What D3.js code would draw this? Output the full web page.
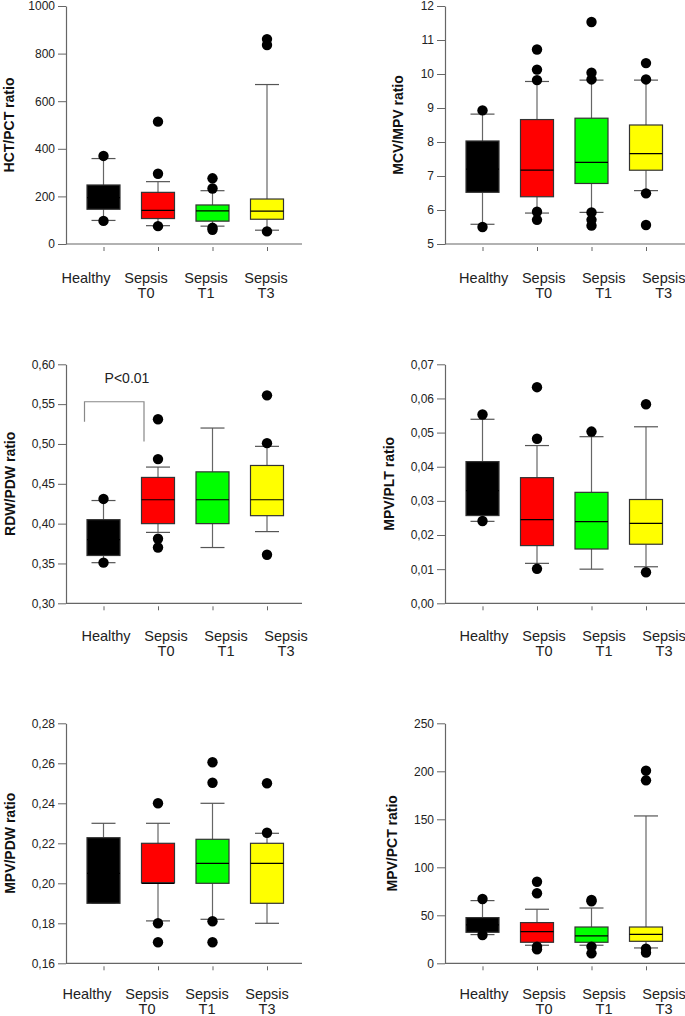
<!DOCTYPE html>
<html>
<head>
<meta charset="utf-8">
<script src="https://cdn.jsdelivr.net/npm/d3@7"></script>
<style>
  body { margin: 0; background: #fff; }
  svg { display: block; font-family: "Liberation Sans", Arial, sans-serif; }
</style>
</head>
<body>
<svg id="chart" width="685" height="1016"></svg>
<script>
const categories = ["Healthy", "Sepsis T0", "Sepsis T1", "Sepsis T3"];
const boxColors = ["#000000", "#ff0000", "#00ff00", "#ffff00"];

// each box: [lower whisker, q1, median, q3, upper whisker]
const hctPctBoxes = [[99, 146, 195, 248, 359], [77, 107, 141, 217, 262], [75, 96, 139, 164, 224], [58, 104, 138, 189, 670]];
const hctPctOutliers = [[370, 97], [514, 295, 75], [276, 233, 68, 60], [861, 836, 53]];
const hctPctTicks = [0, 200, 400, 600, 800, 1000];

const mcvMpvBoxes = [[5.58, 6.52, 7.2, 8.03, 8.82], [5.91, 6.39, 7.17, 8.66, 9.78], [5.93, 6.78, 7.40, 8.70, 9.82], [6.57, 7.17, 7.66, 8.50, 9.82]];
const mcvMpvOutliers = [[8.93, 5.50], [10.72, 10.13, 9.82, 5.95, 5.71], [11.53, 10.04, 9.84, 5.93, 5.71, 5.54], [10.32, 9.84, 6.49, 5.56]];
const mcvMpvTicks = [5, 6, 7, 8, 9, 10, 11, 12];

const rdwPdwBoxes = [[0.351, 0.360, 0.38, 0.405, 0.429], [0.389, 0.400, 0.430, 0.458, 0.471], [0.370, 0.400, 0.430, 0.465, 0.520], [0.390, 0.410, 0.430, 0.473, 0.497]];
const rdwPdwOutliers = [[0.431, 0.351], [0.531, 0.481, 0.381, 0.370], [], [0.561, 0.501, 0.361]];
const rdwPdwTicks = [0.30, 0.35, 0.40, 0.45, 0.50, 0.55, 0.60];

const mpvPltBoxes = [[0.0240, 0.0257, 0.033, 0.0415, 0.0539], [0.0117, 0.0169, 0.0245, 0.0368, 0.0462], [0.0100, 0.0159, 0.0239, 0.0325, 0.0488], [0.0107, 0.0173, 0.0234, 0.0304, 0.0517]];
const mpvPltOutliers = [[0.0553, 0.0241], [0.0633, 0.0482, 0.0101], [0.0503], [0.0583, 0.0091]];
const mpvPltTicks = [0, 0.01, 0.02, 0.03, 0.04, 0.05, 0.06, 0.07];

const mpvPdwBoxes = [[0.190, 0.190, 0.205, 0.2228, 0.230], [0.1812, 0.2003, 0.200, 0.220, 0.230], [0.182, 0.200, 0.210, 0.222, 0.240], [0.180, 0.190, 0.210, 0.220, 0.225]];
const mpvPdwOutliers = [[], [0.240, 0.180, 0.1705], [0.2605, 0.2503, 0.181, 0.1705], [0.250, 0.2253]];
const mpvPdwTicks = [0.16, 0.18, 0.20, 0.22, 0.24, 0.26, 0.28];

const mpvPctBoxes = [[29.9, 32.3, 40, 47.6, 65.3], [18.8, 21.9, 33, 42.4, 56.3], [18.8, 21.9, 28.5, 37.8, 57.6], [16, 22.9, 30.2, 37.8, 153.5]];
const mpvPctOutliers = [[67, 29.5], [85, 73, 17.4, 14.6], [66, 64.6, 17.4, 10.4], [200.7, 190.6, 15.3, 11.1]];
const mpvPctTicks = [0, 50, 100, 150, 200, 250];

// significance bracket (RDW/PDW panel)
const bracketPair = ["Healthy", "Sepsis T0"];
const bracketValues = [0.553, 0.528, 0.503]; // top, left leg end, right leg end
const bracketLabel = "P<0.01";
const bracketLabelValue = 0.577;

class Boxplot {

  constructor(_config, _boxes, _outliers, _ticks, _title) {
    this.config = {
      parentElement: _config.parentElement,
      left: _config.left,
      top: _config.top,
      height: _config.height || 239,
      axisRight: _config.axisRight,
      labelOffset: _config.labelOffset,
      labelDy: _config.labelDy || 38,
      titleX: _config.titleX,
      decimals: _config.decimals || 0,
      bracket: _config.bracket || false
    }
    this.boxes = _boxes;
    this.outliers = _outliers;
    this.ticks = _ticks;
    this.title = _title;
    this.initVis();
  }

  initVis() {
    let vis = this;
    const c = vis.config;
    vis.width = c.axisRight - c.left;
    vis.boxW = 33;
    vis.capW = 24;

    vis.yScale = d3.scaleLinear()
        .domain(d3.extent(vis.ticks))
        .range([c.height, 0]);

    vis.xScale = d3.scalePoint()
        .domain(categories)
        .range([37.5, 37.5 + 3 * 54.5]);

    // category labels are set on their own spacing in the original figure
    vis.labelScale = d3.scalePoint()
        .domain(categories)
        .range([c.labelOffset, c.labelOffset + 180]);

    vis.chart = d3.select(c.parentElement).append('g')
        .attr('transform', `translate(${c.left},${c.top})`);

    const fmt = d => d3.format(`.${c.decimals}f`)(d).replace('.', ',');

    vis.yAxis = d3.axisLeft(vis.yScale)
        .tickValues(vis.ticks)
        .tickFormat(fmt)
        .tickSize(8)
        .tickSizeOuter(0)
        .tickPadding(3);

    vis.xAxis = d3.axisBottom(vis.xScale)
        .tickSize(7)
        .tickSizeOuter(0)
        .tickFormat('');

    vis.xAxisG = vis.chart.append('g')
        .attr('transform', `translate(0,${c.height})`)
        .call(vis.xAxis);
    vis.xAxisG.select('.domain').remove();
    vis.xAxisG.selectAll('.tick line').attr('y1', 3).attr('stroke', '#666');
    vis.xAxisG.append('line')
        .attr('x1', 0).attr('x2', vis.width)
        .attr('stroke', '#666').attr('stroke-width', 1.2);

    vis.yAxisG = vis.chart.append('g').call(vis.yAxis);
    vis.yAxisG.select('.domain').attr('stroke', '#666').attr('stroke-width', 1.2);
    vis.yAxisG.selectAll('.tick line').attr('stroke', '#666');
    vis.yAxisG.selectAll('.tick text')
        .attr('fill', '#222')
        .style('font-size', '12px');

    // category labels (two lines)
    const labels = vis.chart.append('g').selectAll('text')
        .data(categories)
        .join('text')
        .attr('text-anchor', 'middle')
        .attr('fill', '#222')
        .style('font-size', '14.5px')
        .attr('y', c.height + c.labelDy);
    labels.selectAll('tspan')
        .data(d => d.split(' ').map(t => ({t, d})))
        .join('tspan')
        .attr('x', p => vis.labelScale(p.d))
        .attr('dy', (p, i) => i === 0 ? 0 : 15)
        .text(p => p.t);

    // axis title
    vis.chart.append('text')
        .attr('transform', `translate(${c.titleX - c.left},${c.height / 2}) rotate(-90)`)
        .attr('text-anchor', 'middle')
        .attr('dominant-baseline', 'central')
        .attr('fill', '#111')
        .style('font-size', '14px')
        .style('font-weight', 'bold')
        .text(vis.title);

    vis.renderVis();
  }

  renderVis() {
    let vis = this;
    const y = vis.yScale;
    const data = vis.boxes.map((b, i) => ({cat: categories[i], b, color: boxColors[i], out: vis.outliers[i]}));

    const g = vis.chart.selectAll('.box')
        .data(data)
        .join('g')
        .attr('class', 'box')
        .attr('transform', d => `translate(${vis.xScale(d.cat)},0)`);

    // whiskers
    g.append('line')
        .attr('y1', d => y(d.b[0])).attr('y2', d => y(d.b[1]))
        .attr('stroke', '#666').attr('stroke-width', 1.2);
    g.append('line')
        .attr('y1', d => y(d.b[3])).attr('y2', d => y(d.b[4]))
        .attr('stroke', '#666').attr('stroke-width', 1.2);
    g.selectAll('.cap')
        .data(d => [d.b[0], d.b[4]])
        .join('line')
        .attr('class', 'cap')
        .attr('x1', -vis.capW / 2).attr('x2', vis.capW / 2)
        .attr('y1', v => y(v)).attr('y2', v => y(v))
        .attr('stroke', '#555').attr('stroke-width', 1.2);

    g.append('rect')
        .attr('x', -vis.boxW / 2)
        .attr('width', vis.boxW)
        .attr('y', d => y(d.b[3]))
        .attr('height', d => y(d.b[1]) - y(d.b[3]))
        .attr('fill', d => d.color)
        .attr('stroke', '#333')
        .attr('stroke-width', 1.2);

    g.append('line')
        .attr('x1', -vis.boxW / 2).attr('x2', vis.boxW / 2)
        .attr('y1', d => y(d.b[2])).attr('y2', d => y(d.b[2]))
        .attr('stroke', '#000').attr('stroke-width', 1.2);

    g.selectAll('circle')
        .data(d => d.out)
        .join('circle')
        .attr('cy', v => y(v))
        .attr('r', 5.2)
        .attr('fill', '#000');

    if (vis.config.bracket) {
      const x0 = vis.xScale(bracketPair[0]) - 19;
      const x1 = vis.xScale(bracketPair[1]) - 14;
      vis.chart.append('path')
          .attr('d', `M${x0},${y(bracketValues[1])}V${y(bracketValues[0])}H${x1}V${y(bracketValues[2])}`)
          .attr('fill', 'none')
          .attr('stroke', '#888')
          .attr('stroke-width', 1.2);
      vis.chart.append('text')
          .attr('x', vis.xScale(bracketPair[1]) - 31)
          .attr('y', y(bracketLabelValue))
          .attr('text-anchor', 'middle')
          .attr('fill', '#222')
          .style('font-size', '14px')
          .text(bracketLabel);
    }
  }
}

new Boxplot({parentElement: '#chart', left: 66, top: 6, height: 238, axisRight: 302, labelOffset: 20, labelDy: 39, titleX: 9},
  hctPctBoxes, hctPctOutliers, hctPctTicks, 'HCT/PCT ratio');
new Boxplot({parentElement: '#chart', left: 445, top: 6, height: 238, axisRight: 685, labelOffset: 38.7, labelDy: 39, titleX: 398},
  mcvMpvBoxes, mcvMpvOutliers, mcvMpvTicks, 'MCV/MPV ratio');
new Boxplot({parentElement: '#chart', left: 66, top: 364.3, axisRight: 302, labelOffset: 40, labelDy: 38, titleX: 10, decimals: 2, bracket: true},
  rdwPdwBoxes, rdwPdwOutliers, rdwPdwTicks, 'RDW/PDW ratio');
new Boxplot({parentElement: '#chart', left: 445, top: 364.3, axisRight: 685, labelOffset: 39, labelDy: 38, titleX: 389, decimals: 2},
  mpvPltBoxes, mpvPltOutliers, mpvPltTicks, 'MPV/PLT ratio');
new Boxplot({parentElement: '#chart', left: 66, top: 723.3, height: 240, axisRight: 302, labelOffset: 21, labelDy: 36, titleX: 10, decimals: 2},
  mpvPdwBoxes, mpvPdwOutliers, mpvPdwTicks, 'MPV/PDW ratio');
new Boxplot({parentElement: '#chart', left: 445, top: 723.3, height: 240, axisRight: 685, labelOffset: 39, labelDy: 36, titleX: 392},
  mpvPctBoxes, mpvPctOutliers, mpvPctTicks, 'MPV/PCT ratio');
</script>
</body>
</html>
